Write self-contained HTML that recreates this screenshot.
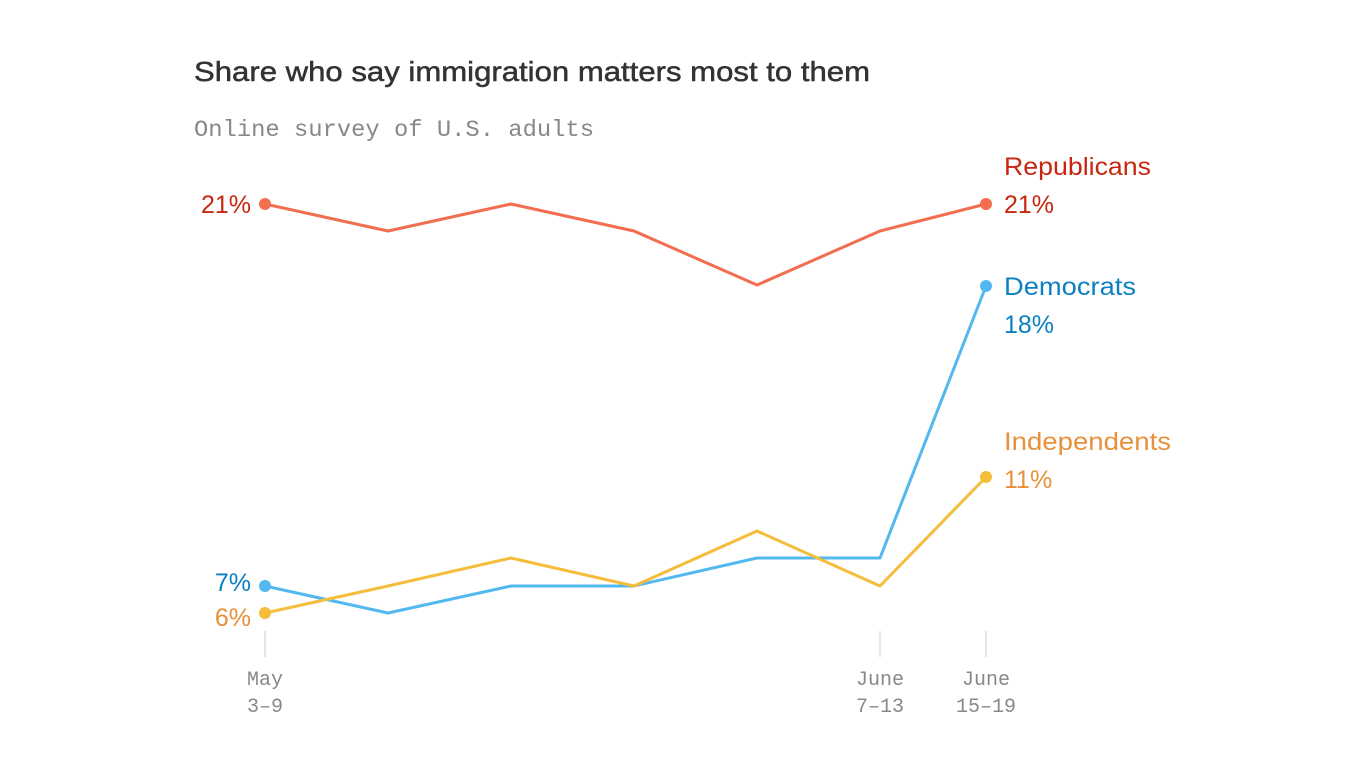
<!DOCTYPE html>
<html><head><meta charset="utf-8"><style>
body{margin:0;background:#fff;width:1366px;height:768px;overflow:hidden}
</style></head><body>
<svg width="1366" height="768" xmlns="http://www.w3.org/2000/svg">
<text x="194" y="81" font-family="Liberation Sans, sans-serif" font-size="28" fill="#333" stroke="#333" stroke-width="0.5" textLength="676" lengthAdjust="spacingAndGlyphs">Share who say immigration matters most to them</text>
<text x="194" y="136" font-family="Liberation Mono, monospace" font-size="23.5" fill="#888" textLength="400" lengthAdjust="spacingAndGlyphs">Online survey of U.S. adults</text>
<g stroke="#ccc" stroke-width="1">
<line x1="265" y1="631" x2="265" y2="657"/>
<line x1="880" y1="631" x2="880" y2="657"/>
<line x1="986" y1="631" x2="986" y2="657"/>
</g>
<g font-family="Liberation Mono, monospace" font-size="20" fill="#888" text-anchor="middle">
<text x="265" y="685">May</text><text x="265" y="712">3–9</text>
<text x="880" y="685">June</text><text x="880" y="712">7–13</text>
<text x="986" y="685">June</text><text x="986" y="712">15–19</text>
</g>
<g fill="none" stroke-width="3" stroke-linejoin="round">
<polyline stroke="#f26e50" points="265,204 388,231 511,204 634,231 757,285 880,231 986,204"/>
<polyline stroke="#53b8f0" points="265,586 388,613 511,586 634,586 757,558 880,558 986,286"/>
<polyline stroke="#f5bd3c" points="265,613 388,586 511,558 634,586 757,531 880,586 986,477"/>
</g>
<circle cx="265" cy="204" r="6" fill="#f26e50"/><circle cx="986" cy="204" r="6" fill="#f26e50"/>
<circle cx="265" cy="586" r="6" fill="#53b8f0"/><circle cx="986" cy="286" r="6" fill="#53b8f0"/>
<circle cx="265" cy="613" r="6" fill="#f5bd3c"/><circle cx="986" cy="477" r="6" fill="#f5bd3c"/>
<g font-family="Liberation Sans, sans-serif" font-size="25">
<text x="251" y="213" text-anchor="end" fill="#c8260f">21%</text>
<text x="251" y="591" text-anchor="end" fill="#0a7fc4">7%</text>
<text x="251" y="626" text-anchor="end" fill="#e8903a">6%</text>
<text x="1004" y="175" fill="#c8260f" textLength="147" lengthAdjust="spacingAndGlyphs">Republicans</text>
<text x="1004" y="213" fill="#c8260f">21%</text>
<text x="1004" y="295" fill="#0a7fc4" textLength="132" lengthAdjust="spacingAndGlyphs">Democrats</text>
<text x="1004" y="333" fill="#0a7fc4">18%</text>
<text x="1004" y="450" fill="#e8903a" textLength="167" lengthAdjust="spacingAndGlyphs">Independents</text>
<text x="1004" y="488" fill="#e8903a">11%</text>
</g>
</svg>
</body></html>
